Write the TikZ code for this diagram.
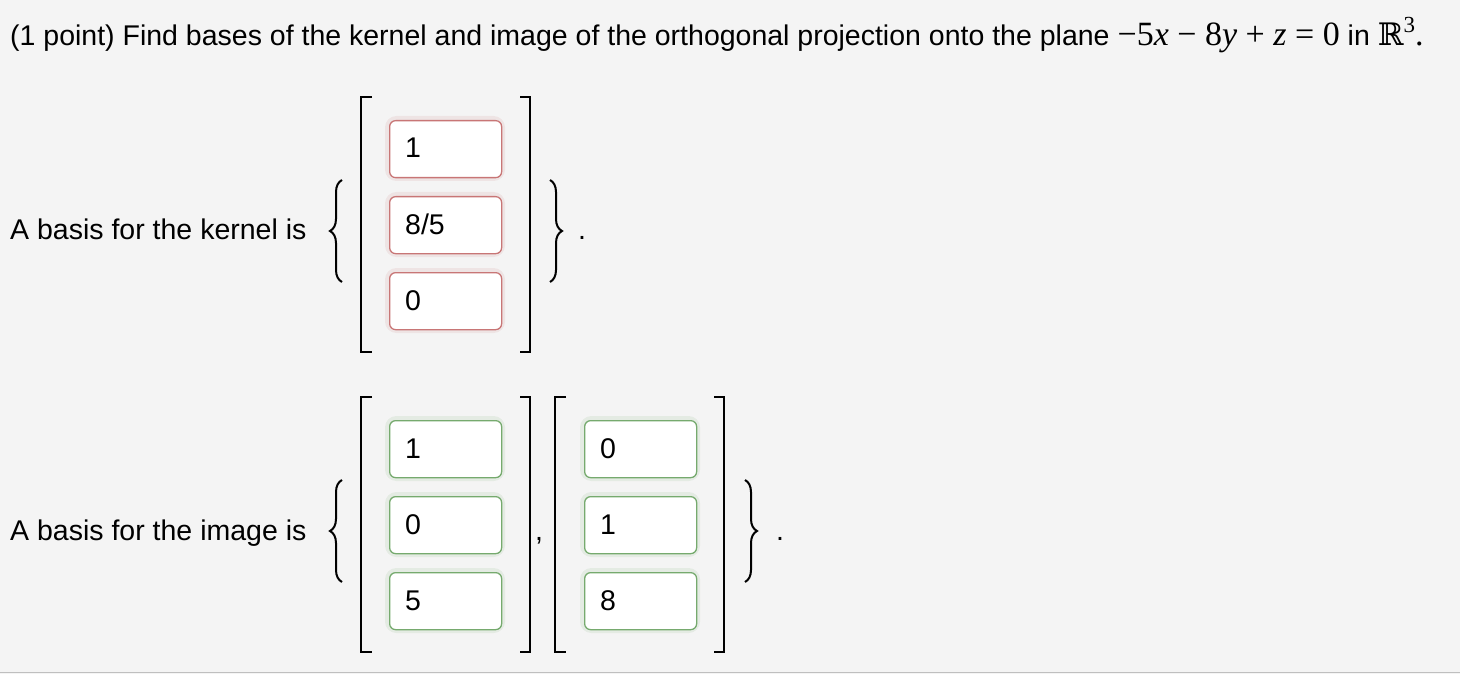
\documentclass[tikz,border=0pt]{standalone}
\usepackage{fontspec}
\setmainfont{Liberation Sans}
\newfontfamily\mathserif{Liberation Serif}
\newfontfamily\symf{DejaVu Serif}
\usetikzlibrary{decorations.pathreplacing}
\definecolor{bg}{RGB}{244,244,244}
\definecolor{redb}{RGB}{200,118,118}
\definecolor{greenb}{RGB}{118,170,110}
\tikzset{
  ansbox/.style={draw=#1, line width=1.3pt, fill=white, rounded corners=6pt, minimum width=112pt, minimum height=57pt, anchor=north west, inner sep=0pt},
  glow/.style={draw=#1, rounded corners=9pt, line width=5pt, opacity=0.12},
  brk/.style={line width=2pt, black},
  brc/.style={decorate, decoration={brace, amplitude=12pt, aspect=0.5}, line width=2pt},
  lbl/.style={anchor=base west, inner sep=0pt, font=\fontsize{28.5}{32}\selectfont},
}
\newcommand{\mybox}[5]{% name, x, y, color, text
  \draw[glow=#4] (#2-1.5,#3-1.5) rectangle (#2+113.5,#3+58.5);
  \node[ansbox=#4] (#1) at (#2,#3) {};
  \node[lbl] (#1t) at (#2+16,#3+38) {#5};
}
\begin{document}
\begin{tikzpicture}[x=1pt,y=-1pt]
\fill[bg] (0,0) rectangle (1460,674);
\useasboundingbox (0,0) rectangle (1460,674);
\draw[gray!50, line width=1pt] (0,672) -- (1460,672);
\node[lbl] (title) at (10,46) {(1 point) Find bases of the kernel and image of the orthogonal projection onto the plane {\mathserif\fontsize{34}{34}\selectfont −5\textit{x} − 8\textit{y} + \textit{z} = 0} in {\symf\fontsize{31}{34}\selectfont ℝ}\raisebox{13pt}{\mathserif\fontsize{23}{24}\selectfont 3}{\mathserif\fontsize{34}{34}\selectfont .}};
% kernel
\node[lbl] (kl) at (10,240) {A basis for the kernel is};
\mybox{k1}{389}{120}{redb}{1}
\mybox{k2}{389}{196}{redb}{8/5}
\mybox{k3}{389}{272}{redb}{0}
\draw[brk] (372,97) -- (361,97) -- (361,352) -- (372,352);
\draw[brk] (520,97) -- (530,97) -- (530,352) -- (520,352);
\draw[brc] (342,282) -- (342,180);
\draw[brc] (550,180) -- (550,282);
\node[lbl] (kd) at (578,240) {.};
% image
\node[lbl] (il) at (10,540) {A basis for the image is};
\mybox{a1}{389}{420}{greenb}{1}
\mybox{a2}{389}{496}{greenb}{0}
\mybox{a3}{389}{572}{greenb}{5}
\mybox{b1}{584}{420}{greenb}{0}
\mybox{b2}{584}{496}{greenb}{1}
\mybox{b3}{584}{572}{greenb}{8}
\draw[brk] (372,397) -- (361,397) -- (361,652) -- (372,652);
\draw[brk] (520,397) -- (530,397) -- (530,652) -- (520,652);
\draw[brk] (566,397) -- (555,397) -- (555,652) -- (566,652);
\draw[brk] (714,397) -- (724,397) -- (724,652) -- (714,652);
\node[lbl] (comma) at (535,540) {,};
\draw[brc] (342,582) -- (342,480);
\draw[brc] (745,480) -- (745,582);
\node[lbl] (id) at (776,540) {.};
\end{tikzpicture}
\end{document}
